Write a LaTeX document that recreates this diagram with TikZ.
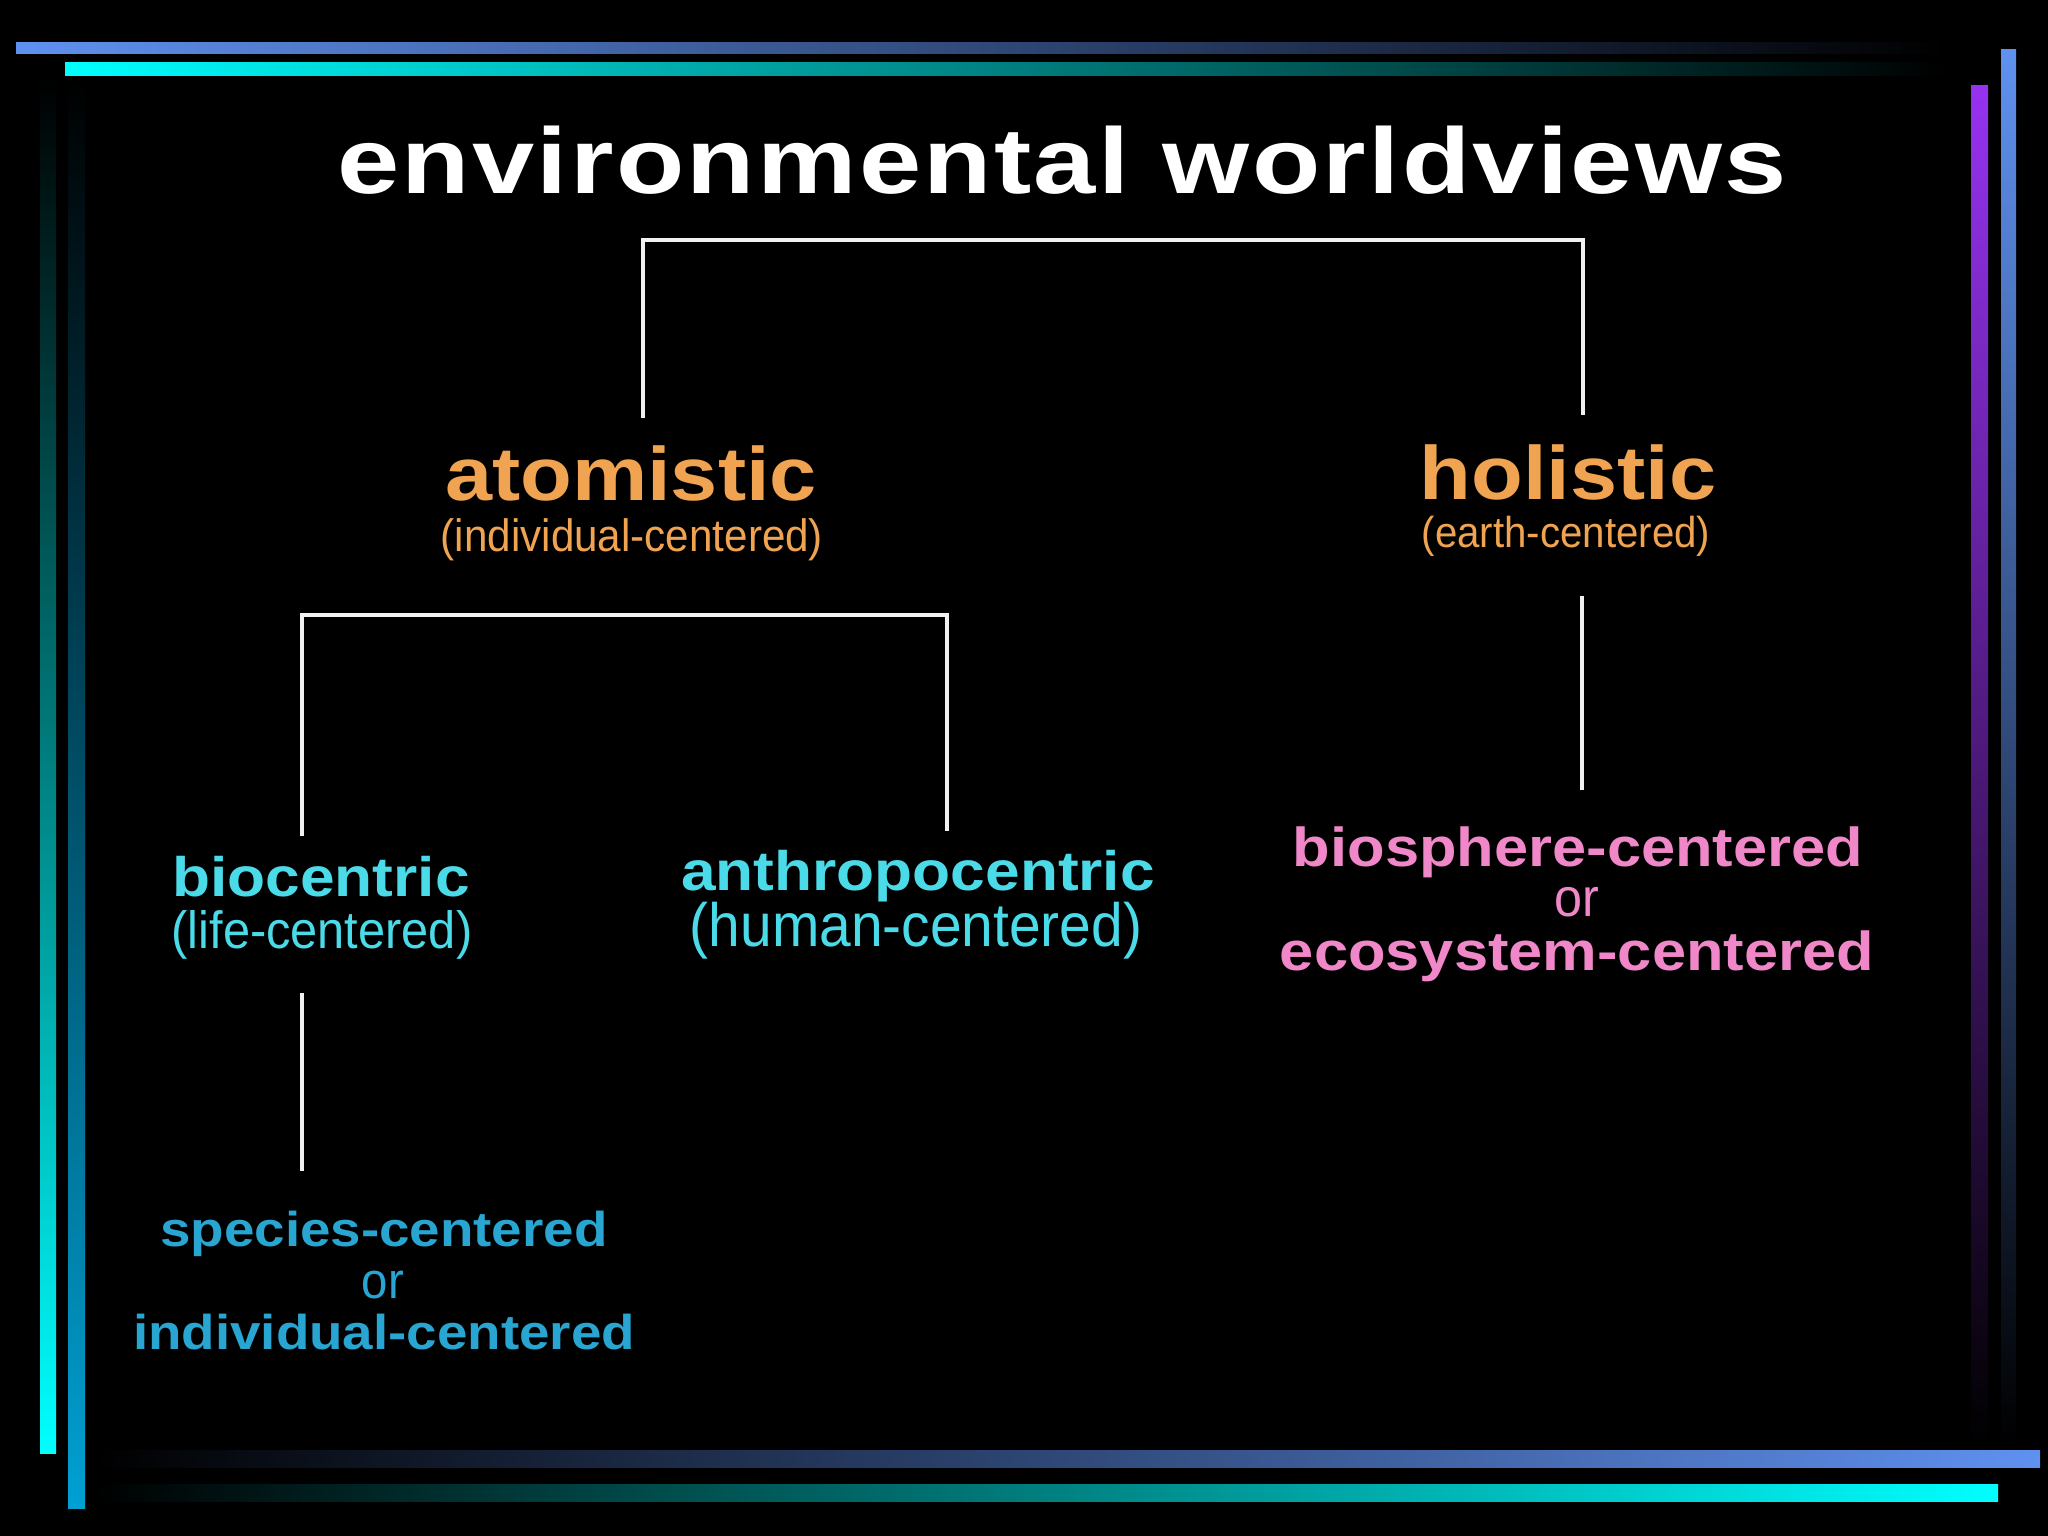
\documentclass[tikz,border=0pt]{standalone}
\usepackage{fontspec}
\setmainfont{Liberation Sans}
\newfontfamily\widefont{Liberation Sans}[FakeStretch=1.12]
\newfontfamily\titlefont{Liberation Sans}[FakeStretch=1.2,LetterSpace=2.5]
\newfontfamily\narrowfont{Liberation Sans}[FakeStretch=0.93]
\usepackage{xcolor}
\usetikzlibrary{positioning}

\definecolor{orangeA}{RGB}{240,163,80}
\definecolor{cyanA}{RGB}{75,218,232}
\definecolor{tealA}{RGB}{40,165,208}
\definecolor{pinkA}{RGB}{240,135,200}
\definecolor{barblue}{RGB}{95,145,240}
\definecolor{barcyan}{RGB}{0,255,255}
\definecolor{barteal}{RGB}{0,160,210}
\definecolor{barpurple}{RGB}{150,50,240}
\definecolor{linegray}{RGB}{242,240,240}

\begin{document}
\begin{tikzpicture}[x=0.01cm,y=-0.01cm,
  head/.style={anchor=base,inner sep=0pt,font=\widefont\bfseries},
  sub/.style={anchor=base,inner sep=0pt,font=\narrowfont},
  link/.style={draw=linegray,line width=1.15pt}]
% background
\fill[black] (0,0) rectangle (2048,1536);
\useasboundingbox (0,0) rectangle (2048,1536);

% the frame bars
\shade[left color=barblue,right color=black] (16,42) rectangle (1946,53);
\shade[left color=barcyan,right color=black] (65,62) rectangle (1946,75);
\shade[top color=barblue,bottom color=black] (2001,49) rectangle (2016,1447);
\shade[top color=barpurple,bottom color=black] (1971,85) rectangle (1988,1447);
\shade[top color=black,bottom color=barcyan] (40,78) rectangle (56,1453);
\shade[top color=black,bottom color=barteal] (68,78) rectangle (85,1508);
\shade[left color=black,right color=barblue] (94,1450) rectangle (2040,1467);
\shade[left color=black,right color=barcyan] (94,1484) rectangle (1998,1501);

% the title
\node[head,text=white,font=\titlefont\bfseries\fontsize{26.5}{27}\selectfont] (title) at (1062,193) {environmental worldviews};

% first level
\node[head,text=orangeA,font=\widefont\bfseries\fontsize{21.5}{22}\selectfont] (atom) at (631,500) {atomistic};
\node[sub,text=orangeA,font=\narrowfont\fontsize{12.9}{13}\selectfont] (atomsub) at (632,551) {(individual-centered)};
\node[head,text=orangeA,font=\widefont\bfseries\fontsize{21.5}{22}\selectfont] (holi) at (1568,499) {holistic};
\node[sub,text=orangeA,font=\narrowfont\fontsize{12.3}{13}\selectfont] (holisub) at (1566,547) {(earth-centered)};

% second level
\node[head,text=cyanA,font=\widefont\bfseries\fontsize{15.8}{16}\selectfont] (bio) at (321,896) {biocentric};
\node[sub,text=cyanA,font=\narrowfont\fontsize{14.9}{15}\selectfont] (biosub) at (322,948) {(life-centered)};
\node[head,text=cyanA,font=\widefont\bfseries\fontsize{15.8}{16}\selectfont] (anthro) at (918,890) {anthropocentric};
\node[sub,text=cyanA,font=\narrowfont\fontsize{17.4}{18}\selectfont] (anthrosub) at (916,946) {(human-centered)};

\node[head,text=pinkA,font=\widefont\bfseries\fontsize{15.6}{16}\selectfont] (biosph) at (1578,866) {biosphere-centered};
\node[sub,text=pinkA,font=\narrowfont\fontsize{15.4}{16}\selectfont] (biosphor) at (1577,916) {or};
\node[head,text=pinkA,font=\widefont\bfseries\fontsize{15.6}{16}\selectfont] (eco) at (1577,970) {ecosystem-centered};

% third level
\node[head,text=tealA,font=\widefont\bfseries\fontsize{13.9}{14}\selectfont] (species) at (384,1246) {species-centered};
\node[sub,text=tealA,font=\narrowfont\fontsize{14.5}{15}\selectfont] (specor) at (383,1298) {or};
\node[head,text=tealA,font=\widefont\bfseries\fontsize{13.9}{14}\selectfont] (indiv) at (384,1349) {individual-centered};

% the connectors
\coordinate (atomtop) at (643,418);
\coordinate (holitop) at (1583,415);
\coordinate (fork1) at (1113,240);
\draw[link] (atomtop) |- (fork1) -| (holitop);

\coordinate (biotop) at (302,836);
\coordinate (anthrotop) at (947,831);
\coordinate (fork2) at (625,615);
\draw[link] (biotop) |- (fork2) -| (anthrotop);

\coordinate (holibot) at (1582,596);
\coordinate (biosphtop) at (1582,790);
\draw[link] (holibot) -- (biosphtop);

\coordinate (biobot) at (302,993);
\coordinate (speciestop) at (302,1171);
\draw[link] (biobot) -- (speciestop);
\end{tikzpicture}
\end{document}
